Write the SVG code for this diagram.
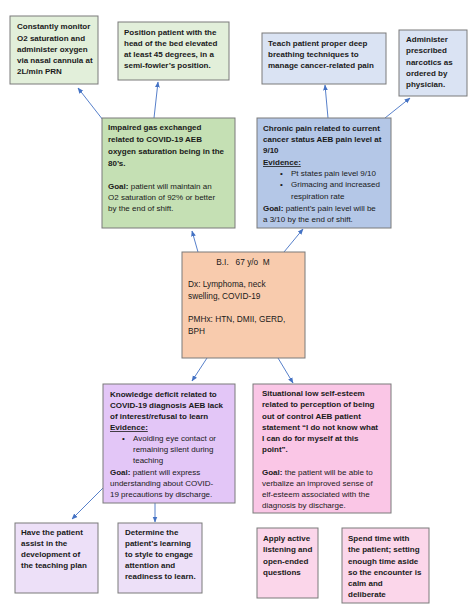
<svg xmlns="http://www.w3.org/2000/svg" width="474" height="613" viewBox="0 0 474 613">
<defs>
<marker id="ah" viewBox="0 0 10 10" refX="9" refY="5" markerWidth="6" markerHeight="6" orient="auto" markerUnits="userSpaceOnUse">
<path d="M0,1 L10,5 L0,9 z" fill="#4472c4"/>
</marker>
<style>
text{font-family:"Liberation Sans",Arial,sans-serif;font-size:8px;fill:#1a1a1a}
.b{font-weight:bold}
.u{text-decoration:underline}
.c{font-size:8.3px}
rect{stroke:#7a7a7a;stroke-width:1}
.g1{fill:#e2efda}.g2{fill:#c5e0b4}
.b1{fill:#dae3f3}.b2{fill:#b4c7e7}
.o{fill:#f8cbad}
.p1{fill:#ede0f8}.p2{fill:#e3c6f7}
.k1{fill:#fbd6ea}.k2{fill:#fac6e6}
.con line{stroke:#4472c4;stroke-width:0.9;marker-end:url(#ah)}
</style>
</defs>
<rect width="474" height="613" fill="#ffffff" style="stroke:none"/>

<g class="con" id="connectors">
<line x1="103" y1="120" x2="78" y2="88"/>
<line x1="154" y1="118" x2="158" y2="82"/>
<line x1="328" y1="118" x2="325" y2="85"/>
<line x1="385" y1="118" x2="410" y2="98"/>
<line x1="198" y1="252" x2="192" y2="231"/>
<line x1="284" y1="252" x2="303" y2="229"/>
<line x1="207" y1="358" x2="192" y2="381"/>
<line x1="278" y1="358" x2="293" y2="383"/>
<line x1="103" y1="488" x2="72" y2="519"/>
<line x1="155" y1="503" x2="155" y2="522"/>
</g>

<g id="monitor">
<rect class="g1" x="10" y="16" width="88" height="68"/>
<text class="b" x="17" y="29">Constantly monitor</text>
<text class="b" x="17" y="40.5">O2 saturation and</text>
<text class="b" x="17" y="52">administer oxygen</text>
<text class="b" x="17" y="63">via nasal cannula at</text>
<text class="b" x="17" y="74">2L/min PRN</text>
</g>

<g id="position">
<rect class="g1" x="118" y="22" width="111" height="58"/>
<text class="b" x="124" y="35">Position patient with the</text>
<text class="b" x="124" y="46">head of the bed elevated</text>
<text class="b" x="124" y="57">at least 45 degrees, in a</text>
<text class="b" x="124" y="68">semi-fowler’s position.</text>
</g>

<g id="teach">
<rect class="b1" x="262" y="33" width="124" height="51"/>
<text class="b" x="268" y="46">Teach patient proper deep</text>
<text class="b" x="268" y="57">breathing techniques to</text>
<text class="b" x="268" y="68">manage cancer-related pain</text>
</g>

<g id="narcotics">
<rect class="b1" x="399" y="30" width="68" height="66"/>
<text class="b" x="406" y="42">Administer</text>
<text class="b" x="406" y="53">prescribed</text>
<text class="b" x="406" y="65">narcotics as</text>
<text class="b" x="406" y="76">ordered by</text>
<text class="b" x="406" y="87">physician.</text>
</g>

<g id="gas">
<rect class="g2" x="102" y="118" width="133" height="110"/>
<text class="b" x="108" y="130">Impaired gas exchanged</text>
<text class="b" x="108" y="142">related to COVID-19 AEB</text>
<text class="b" x="108" y="154">oxygen saturation being in the</text>
<text class="b" x="108" y="166">80’s.</text>
<text x="108" y="189"><tspan class="b">Goal:</tspan> patient will maintain an</text>
<text x="108" y="200">O2 saturation of 92% or better</text>
<text x="108" y="211">by the end of shift.</text>
</g>

<g id="pain">
<rect class="b2" x="257" y="118" width="134" height="110"/>
<text class="b" x="263" y="131">Chronic pain related to current</text>
<text class="b" x="263" y="142">cancer status AEB pain level at</text>
<text class="b" x="263" y="153">9/10</text>
<text class="b u" x="263" y="165">Evidence:</text>
<text x="280" y="176">•</text>
<text x="291" y="176">Pt states pain level 9/10</text>
<text x="280" y="187">•</text>
<text x="291" y="187">Grimacing and increased</text>
<text x="291" y="199">respiration rate</text>
<text x="263" y="211"><tspan class="b">Goal:</tspan> patient’s pain level will be</text>
<text x="263" y="222">a 3/10 by the end of shift.</text>
</g>

<g id="patient">
<rect class="o" x="182" y="252" width="123" height="106"/>
<text class="c" x="243" y="265" text-anchor="middle" xml:space="preserve">B.I.   67 y/o  M</text>
<text class="c" x="188" y="287">Dx: Lymphoma, neck</text>
<text class="c" x="188" y="299">swelling, COVID-19</text>
<text class="c" x="188" y="322">PMHx: HTN, DMII, GERD,</text>
<text class="c" x="188" y="334">BPH</text>
</g>

<g id="knowledge">
<rect class="p2" x="103" y="384" width="132" height="119"/>
<text class="b" x="110" y="397">Knowledge deficit related to</text>
<text class="b" x="110" y="408">COVID-19 diagnosis AEB lack</text>
<text class="b" x="110" y="419">of interest/refusal to learn</text>
<text class="b u" x="110" y="430">Evidence:</text>
<text x="122" y="441">•</text>
<text x="133" y="441">Avoiding eye contact or</text>
<text x="133" y="452">remaining silent during</text>
<text x="133" y="463">teaching</text>
<text x="110" y="475"><tspan class="b">Goal:</tspan> patient will express</text>
<text x="110" y="486">understanding about COVID-</text>
<text x="110" y="497">19 precautions by discharge.</text>
</g>

<g id="esteem">
<rect class="k2" x="253" y="384" width="138" height="129"/>
<text class="b" x="262" y="396">Situational low self-esteem</text>
<text class="b" x="262" y="407">related to perception of being</text>
<text class="b" x="262" y="419">out of control AEB patient</text>
<text class="b" x="262" y="430">statement “I do not know what</text>
<text class="b" x="262" y="441">I can do for myself at this</text>
<text class="b" x="262" y="452">point”.</text>
<text x="262" y="475"><tspan class="b">Goal:</tspan> the patient will be able to</text>
<text x="262" y="486">verbalize an improved sense of</text>
<text x="262" y="497">elf-esteem associated with the</text>
<text x="262" y="508">diagnosis by discharge.</text>
</g>

<g id="assist">
<rect class="p1" x="15" y="523" width="83" height="70"/>
<text class="b" x="21" y="535">Have the patient</text>
<text class="b" x="21" y="546">assist in the</text>
<text class="b" x="21" y="557">development of</text>
<text class="b" x="21" y="568">the teaching plan</text>
</g>

<g id="determine">
<rect class="p1" x="118" y="523" width="84" height="70"/>
<text class="b" x="125" y="535">Determine the</text>
<text class="b" x="125" y="546">patient’s learning</text>
<text class="b" x="125" y="557">to style to engage</text>
<text class="b" x="125" y="568">attention and</text>
<text class="b" x="125" y="579">readiness to learn.</text>
</g>

<g id="listening">
<rect class="k1" x="257" y="528" width="61" height="70"/>
<text class="b" x="263" y="541">Apply active</text>
<text class="b" x="263" y="552">listening and</text>
<text class="b" x="263" y="564">open-ended</text>
<text class="b" x="263" y="575">questions</text>
</g>

<g id="spend">
<rect class="k1" x="342" y="528" width="87" height="75"/>
<text class="b" x="348" y="541">Spend time with</text>
<text class="b" x="348" y="552">the patient; setting</text>
<text class="b" x="348" y="564">enough time aside</text>
<text class="b" x="348" y="575">so the encounter is</text>
<text class="b" x="348" y="586">calm and</text>
<text class="b" x="348" y="597">deliberate</text>
</g>
</svg>
